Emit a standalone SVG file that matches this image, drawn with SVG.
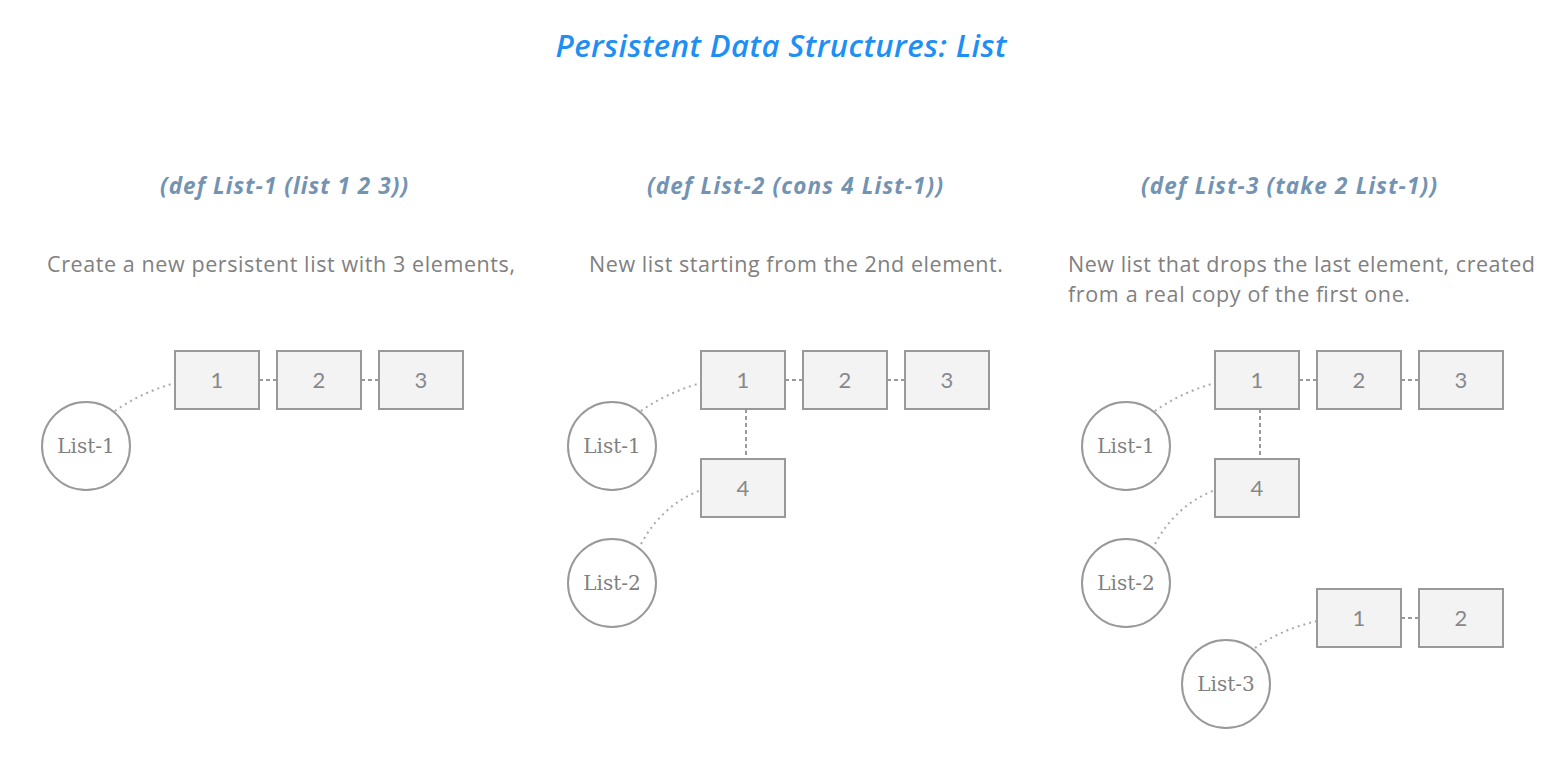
<svg xmlns="http://www.w3.org/2000/svg" width="1560" height="768" viewBox="0 0 1560 768">
<style>
.title{font-family:"Open Sans",Lato,sans-serif;font-style:italic;font-weight:600;font-size:31px;fill:#1e90f5;text-anchor:middle}
.head{font-family:"Open Sans",Lato,sans-serif;font-style:italic;font-weight:bold;font-size:22.5px;fill:#7393b3;text-anchor:middle}
.desc{font-family:"Open Sans",Lato,sans-serif;font-size:21.5px;fill:#808080}
.box rect{fill:#f3f3f3;stroke:#999;stroke-width:2}
.box text{font-family:Lato,"Open Sans",sans-serif;font-size:22px;fill:#888;text-anchor:middle}
.ref circle{fill:#fff;stroke:#999;stroke-width:2}
.ref text{font-family:"DejaVu Serif","Liberation Serif",serif;font-size:20px;fill:#808080;text-anchor:middle}
.dot{fill:none;stroke:#aaa;stroke-width:2;stroke-dasharray:2 4}
.dash{fill:none;stroke:#999;stroke-width:2;stroke-dasharray:4 3}
</style>
<rect width="1560" height="768" fill="#fff"/>
<text class="title" x="781" y="57" textLength="451">Persistent Data Structures: List</text>

<text class="head" x="284" y="194" textLength="248">(def List-1 (list 1 2 3))</text>
<text class="head" x="795" y="194" textLength="296">(def List-2 (cons 4 List-1))</text>
<text class="head" x="1289" y="194" textLength="296">(def List-3 (take 2 List-1))</text>

<text class="desc" x="281" y="272" text-anchor="middle" textLength="468">Create a new persistent list with 3 elements,</text>
<text class="desc" x="796" y="272" text-anchor="middle" textLength="414">New list starting from the 2nd element.</text>
<text class="desc" x="1068" y="272" textLength="467">New list that drops the last element, created</text>
<text class="desc" x="1068" y="302" textLength="342">from a real copy of the first one.</text>

<g id="connectors">
<path class="dot" d="M115,411 Q140,393 175,383"/>
<path class="dash" d="M259,380 H277"/>
<path class="dash" d="M361,380 H379"/>

<path class="dot" d="M641,411 Q666,393 701,383"/>
<path class="dash" d="M785,380 H803"/>
<path class="dash" d="M887,380 H905"/>
<path class="dash" d="M746,409 V459"/>
<path class="dot" d="M641,544 Q662,505 701,490"/>

<path class="dot" d="M1155,411 Q1180,393 1215,383"/>
<path class="dash" d="M1299,380 H1317"/>
<path class="dash" d="M1401,380 H1419"/>
<path class="dash" d="M1260,409 V459"/>
<path class="dot" d="M1155,544 Q1176,505 1215,490"/>
<path class="dot" d="M1255,648 Q1280,630 1317,621"/>
<path class="dash" d="M1401,618 H1419"/>
</g>

<g id="p1-list1" class="ref"><circle cx="86" cy="446" r="44"/><text x="86" y="453">List-1</text></g>
<g id="p1-n1" class="box"><rect x="175" y="351" width="84" height="58"/><text x="217" y="388">1</text></g>
<g id="p1-n2" class="box"><rect x="277" y="351" width="84" height="58"/><text x="319" y="388">2</text></g>
<g id="p1-n3" class="box"><rect x="379" y="351" width="84" height="58"/><text x="421" y="388">3</text></g>

<g id="p2-list1" class="ref"><circle cx="612" cy="446" r="44"/><text x="612" y="453">List-1</text></g>
<g id="p2-list2" class="ref"><circle cx="612" cy="583" r="44"/><text x="612" y="590">List-2</text></g>
<g id="p2-n1" class="box"><rect x="701" y="351" width="84" height="58"/><text x="743" y="388">1</text></g>
<g id="p2-n2" class="box"><rect x="803" y="351" width="84" height="58"/><text x="845" y="388">2</text></g>
<g id="p2-n3" class="box"><rect x="905" y="351" width="84" height="58"/><text x="947" y="388">3</text></g>
<g id="p2-n4" class="box"><rect x="701" y="459" width="84" height="58"/><text x="743" y="496">4</text></g>

<g id="p3-list1" class="ref"><circle cx="1126" cy="446" r="44"/><text x="1126" y="453">List-1</text></g>
<g id="p3-list2" class="ref"><circle cx="1126" cy="583" r="44"/><text x="1126" y="590">List-2</text></g>
<g id="p3-list3" class="ref"><circle cx="1226" cy="684" r="44"/><text x="1226" y="691">List-3</text></g>
<g id="p3-n1" class="box"><rect x="1215" y="351" width="84" height="58"/><text x="1257" y="388">1</text></g>
<g id="p3-n2" class="box"><rect x="1317" y="351" width="84" height="58"/><text x="1359" y="388">2</text></g>
<g id="p3-n3" class="box"><rect x="1419" y="351" width="84" height="58"/><text x="1461" y="388">3</text></g>
<g id="p3-n4" class="box"><rect x="1215" y="459" width="84" height="58"/><text x="1257" y="496">4</text></g>
<g id="p3-c1" class="box"><rect x="1317" y="589" width="84" height="58"/><text x="1359" y="626">1</text></g>
<g id="p3-c2" class="box"><rect x="1419" y="589" width="84" height="58"/><text x="1461" y="626">2</text></g>
</svg>
